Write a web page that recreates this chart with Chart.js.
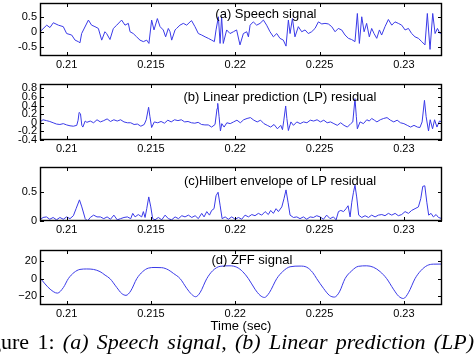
<!DOCTYPE html>
<html>
<head>
<meta charset="utf-8">
<script src="https://cdn.jsdelivr.net/npm/chart.js@4.4.0/dist/chart.umd.min.js"></script>
<style>
  body { margin: 0; background: #fff; width: 474px; height: 362px; overflow: hidden; position: relative; }
  canvas { position: absolute; left: 0; }
  #caption { position: absolute; left: 0; top: 331px; white-space: nowrap; word-spacing: 2.8px;
    font-family: "Liberation Serif", "Times New Roman", serif; font-size: 22px; line-height: 22px; color: #000; }
</style>
</head>
<body>
<canvas id="speech" width="474" height="72" style="top:0px"></canvas>
<canvas id="residual" width="474" height="76" style="top:80px"></canvas>
<canvas id="envelope" width="474" height="77" style="top:160px"></canvas>
<canvas id="zff" width="474" height="90" style="top:245px"></canvas>
<div id="caption"><span id="fig">Fig</span>ure 1: <i>(a) Speech signal, (b) Linear prediction (LP) residual</i></div>
<script>
// time axis (seconds)
const xMin = 0.20842, xMax = 0.23226;
const xTicks = [0.21, 0.215, 0.22, 0.225, 0.23];
const xTickLabels = ["0.21", "0.215", "0.22", "0.225", "0.23"];

// (a) speech signal
const speechTime = [
  0.20842,0.20882,0.20901,0.20921,0.20951,0.20980,0.21000,0.21030,0.21050,0.21069,
  0.21079,0.21089,0.21129,0.21148,0.21168,0.21188,0.21208,0.21227,0.21237,0.21257,
  0.21277,0.21297,0.21326,0.21346,0.21366,0.21376,0.21395,0.21415,0.21435,0.21455,
  0.21475,0.21488,0.21504,0.21518,0.21538,0.21554,0.21573,0.21587,0.21603,0.21613,
  0.21623,0.21643,0.21652,0.21672,0.21692,0.21712,0.21732,0.21741,0.21761,0.21781,
  0.21801,0.21821,0.21840,0.21860,0.21876,0.21886,0.21900,0.21910,0.21919,0.21929,
  0.21949,0.21969,0.21989,0.22008,0.22028,0.22048,0.22068,0.22078,0.22088,0.22107,
  0.22127,0.22147,0.22167,0.22186,0.22206,0.22226,0.22246,0.22265,0.22285,0.22301,
  0.22315,0.22325,0.22339,0.22354,0.22374,0.22394,0.22414,0.22433,0.22453,0.22473,
  0.22493,0.22513,0.22532,0.22552,0.22572,0.22592,0.22611,0.22631,0.22651,0.22671,
  0.22690,0.22710,0.22724,0.22736,0.22750,0.22764,0.22779,0.22795,0.22809,0.22823,
  0.22839,0.22855,0.22868,0.22888,0.22908,0.22928,0.22947,0.22967,0.22987,0.23007,
  0.23027,0.23046,0.23066,0.23086,0.23106,0.23125,0.23139,0.23155,0.23171,0.23185,
  0.23199,0.23214,0.23226];
const speech = [
  0,0.22,0.14,0.3,0.22,0.17,-0.06,-0.11,-0.28,-0.33,
  -0.37,-0.06,0.39,0.22,0.17,0.11,-0.28,0,-0.06,-0.26,
  0.11,0.22,0.39,0.22,0.28,0,-0.06,-0.17,-0.28,-0.33,
  -0.28,-0.39,0.39,0.06,0.44,0.17,0.06,-0.17,0.11,0,
  -0.28,0.06,0.11,0.22,0.28,0.22,0.33,0.37,0.17,-0.06,
  -0.11,-0.17,-0.22,-0.28,-0.33,0.06,0.5,-0.39,0.5,-0.39,
  0.06,-0.06,0,0.06,-0.44,-0.06,0,-0.17,0.22,0.33,
  0.22,0.28,0.39,0.22,0,-0.17,-0.06,-0.22,-0.28,-0.48,
  0.39,-0.06,0.44,-0.17,0.17,0,0.06,-0.06,0,0.11,
  0.33,0.26,0.28,0.26,0.17,0,0.11,0.06,-0.11,-0.22,
  -0.26,-0.33,0.61,-0.39,0.5,0,0.28,-0.17,0.11,-0.06,
  -0.22,0.06,-0.11,0.17,0.41,0.22,0.33,0.28,0.22,0.06,
  0.11,-0.06,-0.17,-0.22,-0.33,-0.44,0.61,-0.59,0.61,-0.06,
  0.11,-0.06,0];

// (b) LP residual
const residualTime = [
  0.20842,0.2086,0.2088,0.2090,0.2092,0.2094,0.2096,0.2098,0.2100,0.2102,
  0.2104,0.2106,0.21068,0.21074,0.21082,0.2109,0.21096,0.2111,0.2112,0.2114,
  0.2116,0.2118,0.2120,0.2122,0.2124,0.2126,0.2128,0.2130,0.2132,0.2134,
  0.2136,0.2138,0.2140,0.2142,0.2144,0.2146,0.21472,0.21486,0.21494,0.21504,
  0.2152,0.2154,0.2156,0.2158,0.2160,0.2162,0.2164,0.2166,0.2168,0.2170,
  0.2172,0.2174,0.2176,0.2178,0.2180,0.2182,0.2184,0.2186,0.2188,0.21892,
  0.21896,0.21904,0.21912,0.2192,0.21934,0.2195,0.2197,0.2199,0.2201,0.2203,
  0.2205,0.2207,0.2209,0.2211,0.2213,0.2215,0.2217,0.2219,0.2221,0.2223,
  0.2225,0.2227,0.2228,0.22288,0.22299,0.22306,0.22315,0.2233,0.22345,0.22365,
  0.22385,0.22405,0.22425,0.22445,0.22465,0.22485,0.22505,0.22525,0.22545,0.22565,
  0.22585,0.22605,0.22625,0.22645,0.22665,0.22685,0.22697,0.2271,0.22718,0.22724,
  0.2274,0.2276,0.2278,0.22795,0.22809,0.22825,0.2284,0.2286,0.2288,0.2290,
  0.2292,0.2294,0.2296,0.2298,0.2300,0.2302,0.2304,0.2306,0.2308,0.23095,
  0.23108,0.23122,0.23132,0.23146,0.23156,0.2317,0.23182,0.23196,0.23211,0.23226];
const residual = [
  0.02,0.07,0.05,0.03,0,-0.03,-0.04,-0.02,-0.05,-0.07,
  -0.08,-0.06,0.06,0.24,0.21,-0.06,-0.1,0.04,0.01,0.04,
  0,0.07,0.02,0.05,0.09,0.03,0.07,0.04,0.07,0.02,
  0,0,-0.04,-0.03,-0.08,-0.04,0.07,0.36,0.14,-0.11,
  0.02,0,0.03,-0.01,0.06,0.02,0.07,0.05,0.07,0.02,
  0.03,0,-0.01,0.01,-0.04,-0.05,-0.05,-0.1,-0.04,0.33,
  0.45,0.14,-0.19,-0.02,-0.1,0,-0.02,0.02,0.06,0,
  0.07,0.1,0.12,0.06,0.02,0.06,-0.02,-0.06,-0.1,-0.04,
  -0.14,-0.06,-0.16,0.06,0.39,0.1,-0.18,0.02,-0.06,0.02,
  -0.02,0.02,0,0.06,0.04,0.07,0.02,0.06,0,0.02,
  -0.02,-0.06,0,-0.06,-0.1,-0.02,0.02,0.56,0.14,-0.14,
  0.02,-0.02,0.07,0.04,0.1,0.06,0.02,0.07,0.1,0.12,
  0.06,0.02,0.06,0,-0.02,-0.06,-0.1,-0.06,-0.1,-0.11,
  0.02,0.52,0.14,-0.19,0.07,-0.14,0.07,-0.1,0.04,0.02];

// (c) Hilbert envelope of LP residual
const envelopeTime = [
  0.20842,0.2086,0.2088,0.2090,0.2092,0.2094,0.2096,0.2098,0.2100,0.2102,
  0.2104,0.21056,0.21076,0.2109,0.2111,0.21124,0.2114,0.2116,0.2118,0.2120,
  0.2122,0.2124,0.2126,0.2128,0.2130,0.2132,0.2134,0.2136,0.2138,0.21392,
  0.21406,0.21425,0.21445,0.21455,0.21465,0.21475,0.21487,0.21499,0.2151,0.21524,
  0.21544,0.21564,0.21584,0.21603,0.21623,0.21643,0.21663,0.21683,0.21702,0.21722,
  0.21742,0.21762,0.21781,0.21801,0.21815,0.21831,0.21847,0.2186,0.21874,0.21886,
  0.21898,0.2191,0.21922,0.2194,0.21959,0.21979,0.21999,0.22019,0.22038,0.22058,
  0.22078,0.22098,0.22117,0.22137,0.22157,0.22177,0.22196,0.2221,0.22226,0.22242,
  0.22256,0.22276,0.22289,0.22301,0.22313,0.22325,0.22345,0.22365,0.22384,0.22404,
  0.22424,0.22444,0.22463,0.22483,0.22503,0.22523,0.22542,0.22562,0.22582,0.22598,
  0.22612,0.22626,0.22642,0.22657,0.22669,0.22681,0.22691,0.22701,0.2271,0.2272,
  0.22732,0.2275,0.2277,0.2279,0.22809,0.22829,0.22849,0.22869,0.22888,0.22908,
  0.22928,0.22948,0.22967,0.22987,0.23007,0.23027,0.23046,0.23066,0.23086,0.2310,
  0.23112,0.23124,0.23136,0.23147,0.23161,0.23175,0.23191,0.23205,0.23226];
const envelope = [
  0.02,0.06,0.07,0.03,0.06,0.02,0.06,0.03,0.07,0.04,
  0.09,0.21,0.36,0.24,0.04,0,0.06,0.1,0.07,0.07,
  0.04,0.07,0.03,0.1,0.02,0.04,0.06,0.07,0.04,0.13,
  0.07,0.11,0.07,0.16,0.06,0.21,0.41,0.24,0.04,0.02,
  0.06,0.02,0.1,0.04,0.02,0.07,0.04,0.09,0.07,0.1,
  0.06,0.09,0.04,0.13,0.07,0.16,0.1,0.18,0.21,0.43,
  0.49,0.27,0.04,0.07,0.03,0.07,0.03,0.06,0.03,0.1,
  0.07,0.11,0.09,0.13,0.1,0.16,0.11,0.18,0.13,0.21,
  0.16,0.24,0.38,0.53,0.32,0.1,0.06,0.07,0.04,0.07,
  0.03,0.07,0.06,0.09,0.07,0.03,0.1,0.04,0.07,0.02,
  0.16,0.18,0.16,0.21,0.26,0.07,0.32,0.49,0.61,0.41,
  0.1,0.06,0.09,0.06,0.1,0.07,0.1,0.11,0.09,0.13,
  0.1,0.13,0.09,0.11,0.16,0.13,0.18,0.21,0.24,0.38,
  0.59,0.6,0.32,0.1,0.13,0.07,0.11,0.06,0.04];

// (d) ZFF signal
const zffTime = [
  0.20842,0.20872,0.20902,0.20945,0.20981,0.21010,0.21044,0.21079,0.21119,0.21159,
  0.21198,0.21228,0.21257,0.21297,0.21327,0.21352,0.21380,0.21416,0.21451,0.21485,
  0.21524,0.21564,0.21603,0.21633,0.21673,0.21712,0.21742,0.21765,0.21791,0.21831,
  0.21866,0.21910,0.21969,0.22009,0.22044,0.22078,0.22117,0.22147,0.22173,0.22202,
  0.22246,0.22281,0.22325,0.22384,0.22424,0.22459,0.22483,0.22523,0.22558,0.22588,
  0.22618,0.22651,0.22691,0.22730,0.22780,0.22819,0.22859,0.22898,0.22938,0.22969,
  0.22997,0.23027,0.23066,0.23100,0.23139,0.23175,0.23226];
const zff = [
  1,-6,-12,-16.5,-10,0,7,10.5,11,10.5,
  8,4,0,-10,-17,-19,-14,0,8,12,
  12.7,12.5,10,6,0,-11,-18,-20.6,-16,0,
  9,14,14.6,13,8,0,-12,-19,-21.4,-16,
  0,8,13.5,14.3,13,7,0,-11,-19,-21,
  -15,0,9,14,14.6,13,8,0,-12,-20,
  -22.6,-16,0,9,15,16.5,16.6];

// y ticks per panel
const speechTicks = [-0.5, 0, 0.5], speechTickLabels = ["-0.5", "0", "0.5"];
const residualTicks = [-0.4, -0.2, 0, 0.2, 0.4, 0.6, 0.8];
const residualTickLabels = ["-0.4", "-0.2", "0", "0.2", "0.4", "0.6", "0.8"];
const envelopeTicks = [0, 0.5], envelopeTickLabels = ["0", "0.5"];
const zffTicks = [-20, 0, 20], zffTickLabels = ["\u221220", "0", "20"];

const LINE = "rgb(58,58,232)";
const FONT = "'Liberation Sans', Arial, Helvetica, sans-serif";

// MATLAB style box with inward tick marks + in-axes title
const matlabBox = {
  id: "matlabBox",
  afterDatasetsDraw(chart, args, opts) {
    const { ctx, chartArea: a, scales: { x, y } } = chart;
    ctx.save();
    ctx.strokeStyle = "#000";
    ctx.lineWidth = 1;
    ctx.beginPath();
    x.ticks.forEach(t => {
      const px = Math.round(x.getPixelForValue(t.value)) + 0.5;
      ctx.moveTo(px, a.top); ctx.lineTo(px, a.top + 4);
      ctx.moveTo(px, a.bottom); ctx.lineTo(px, a.bottom - 4);
    });
    y.ticks.forEach(t => {
      const py = Math.round(y.getPixelForValue(t.value)) + 0.5;
      ctx.moveTo(a.left, py); ctx.lineTo(a.left + 4, py);
      ctx.moveTo(a.right, py); ctx.lineTo(a.right - 4, py);
    });
    ctx.stroke();
    ctx.lineWidth = 1.4;
    ctx.strokeRect(Math.round(a.left) + 0.5, Math.round(a.top) + 0.5,
                   Math.round(a.width) - 1, Math.round(a.height) - 1);
    if (opts.text) {
      ctx.fillStyle = "#000";
      ctx.font = "13px " + FONT;
      ctx.textAlign = "center";
      ctx.textBaseline = "middle";
      ctx.fillText(opts.text, a.left + a.width * opts.pos, a.top + opts.dy);
    }
    ctx.restore();
  }
};

function makePanel(id, times, values, yMin, yMax, ticks, tickLabels, title, pos, dy, padTop, xHeight, smooth, xTitle) {
  const points = times.map((t, i) => ({ x: t, y: values[i] }));
  return new Chart(document.getElementById(id), {
    type: "line",
    data: {
      datasets: [{
        data: points,
        borderColor: LINE,
        borderWidth: 1,
        pointRadius: 0,
        fill: false,
        tension: 0,
        cubicInterpolationMode: smooth ? "monotone" : "default"
      }]
    },
    options: {
      responsive: false,
      animation: false,
      layout: { padding: { top: padTop, right: 32, left: 0, bottom: 0 } },
      plugins: {
        legend: { display: false },
        tooltip: { enabled: false },
        matlabBox: { text: title, pos: pos, dy: dy }
      },
      scales: {
        x: {
          type: "linear",
          min: xMin, max: xMax,
          grid: { display: false, drawTicks: false },
          border: { display: false },
          afterBuildTicks: s => { s.ticks = xTicks.map(v => ({ value: v })); },
          afterFit: s => { s.height = xHeight; s.paddingLeft = 0; s.paddingRight = 0; },
          ticks: {
            autoSkip: false, maxRotation: 0, padding: 2, color: "#000",
            font: { family: FONT, size: 11 },
            callback: (v, i) => xTickLabels[i]
          },
          title: xTitle ? {
            display: true, text: xTitle, color: "#000",
            font: { family: FONT, size: 13 }, padding: { top: 0, bottom: 1 }
          } : { display: false }
        },
        y: {
          min: yMin, max: yMax,
          grid: { display: false, drawTicks: false },
          border: { display: false },
          afterBuildTicks: s => { s.ticks = ticks.map(v => ({ value: v })); },
          afterFit: s => { s.width = 40; s.paddingTop = 0; s.paddingBottom = 0; },
          ticks: {
            autoSkip: false, padding: 3, color: "#000",
            font: { family: FONT, size: 11 },
            callback: (v, i) => tickLabels[i]
          }
        }
      }
    },
    plugins: [matlabBox]
  });
}

makePanel("speech", speechTime, speech, -0.81, 0.96, speechTicks, speechTickLabels,
  "(a) Speech signal", 0.562, 11, 3, 16, false);
makePanel("residual", residualTime, residual, -0.4, 0.9, residualTicks, residualTickLabels,
  "(b) Linear prediction (LP) residual", 0.597, 13, 4, 16, false);
makePanel("envelope", envelopeTime, envelope, 0, 0.92, envelopeTicks, envelopeTickLabels,
  "(c)Hilbert envelope of LP residual", 0.597, 14, 7, 16, false);
makePanel("zff", zffTime, zff, -30, 32.6, zffTicks, zffTickLabels,
  "(d) ZFF signal", 0.527, 10, 5, 30, true, "Time (sec)");

// shift caption so that only "ure 1:" is visible at the left edge, as in the figure crop
const fig = document.getElementById("fig");
document.getElementById("caption").style.left = (-fig.getBoundingClientRect().width + 1) + "px";
</script>
</body>
</html>
